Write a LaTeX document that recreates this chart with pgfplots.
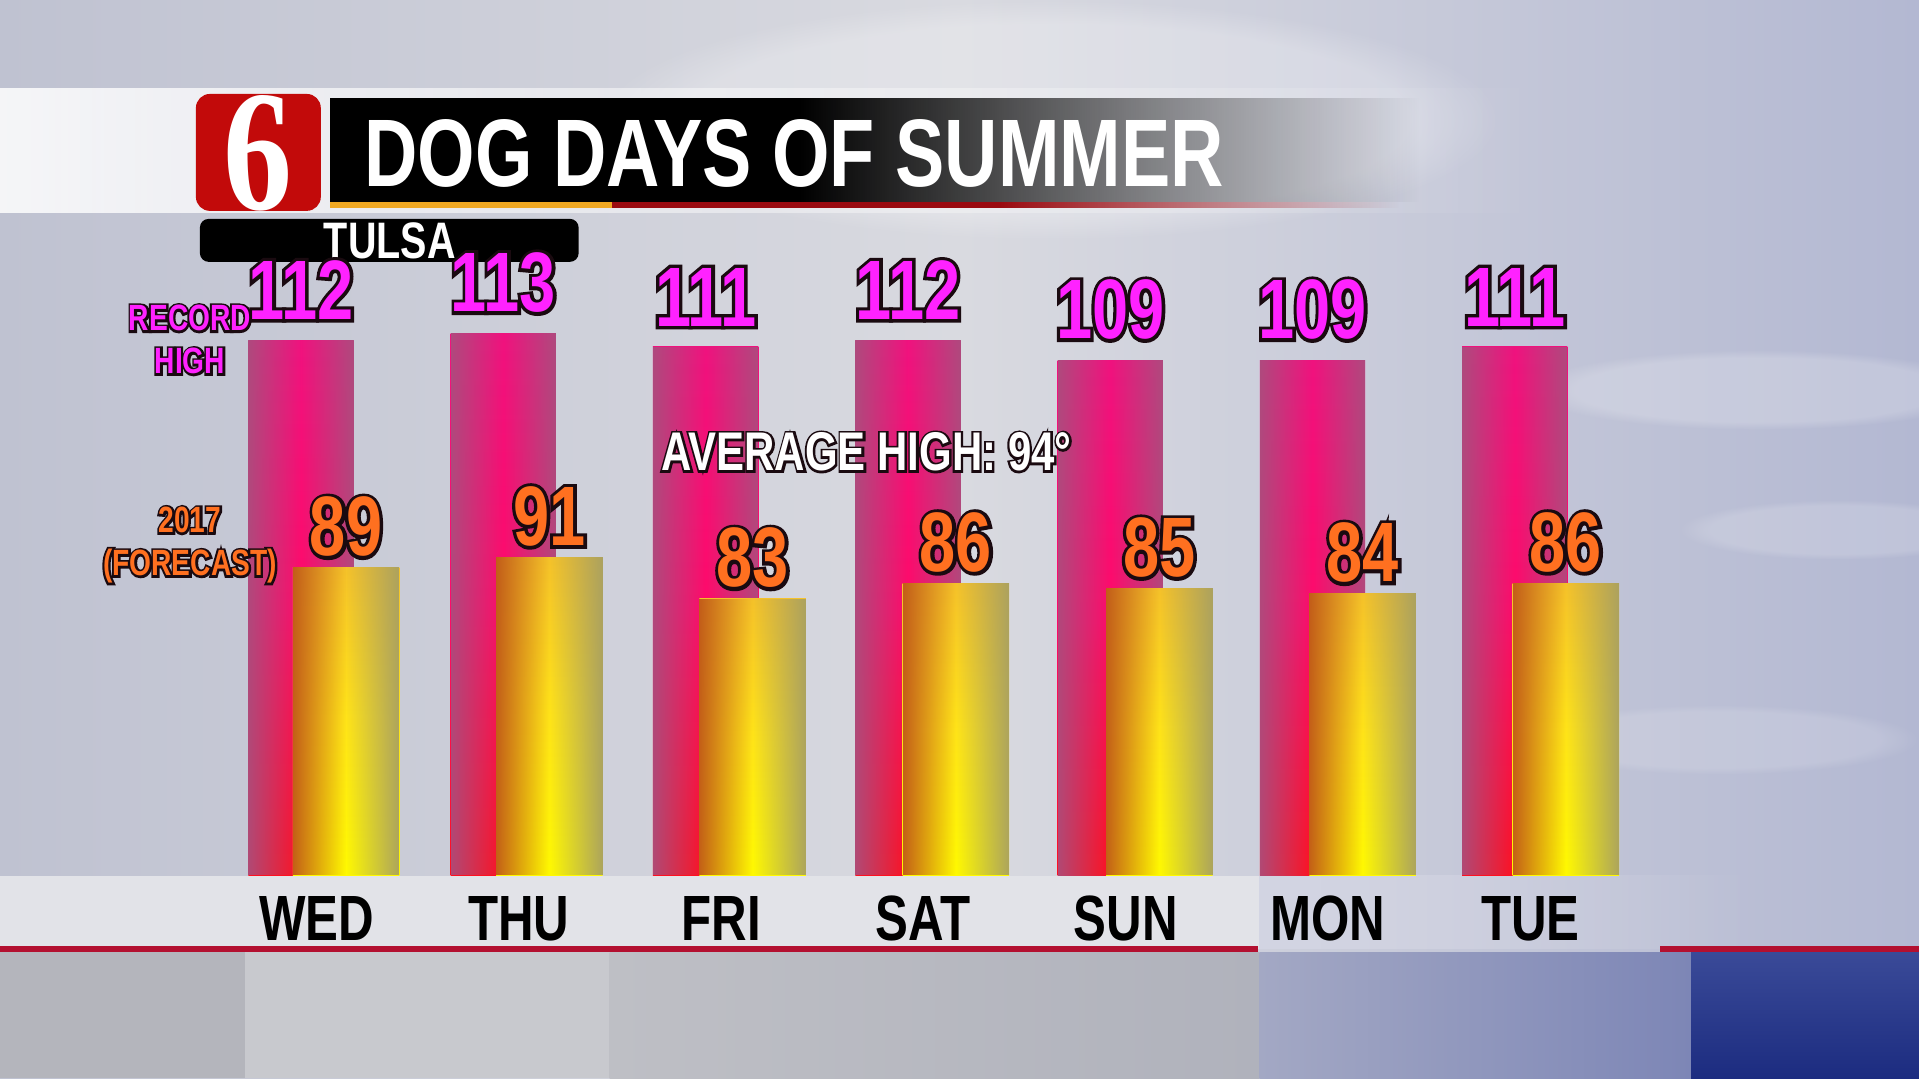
\documentclass[border=0pt]{standalone}
\usepackage{pgfplots}
\usepackage{pgfplotstable}
\pgfplotsset{compat=1.18}
\usetikzlibrary{fadings}
\usepackage{fontspec}
\setmainfont[FakeStretch=0.77]{Liberation Sans}
\newfontfamily\outfont[FakeStretch=0.77, FakeBold=8]{Liberation Sans}
\newfontfamily\outfontS[FakeStretch=0.77, FakeBold=12]{Liberation Sans}
\newfontfamily\logofont[FakeStretch=0.8]{Liberation Serif}

\definecolor{recmag}{HTML}{FF22FF}
\definecolor{fcor}{HTML}{FF7020}
\definecolor{recA}{HTML}{F0127E}
\definecolor{recB}{HTML}{FF0A6A}
\definecolor{recC}{HTML}{FF1020}
\definecolor{recEdge}{HTML}{A8507E}
\definecolor{fcA}{HTML}{F5C22A}
\definecolor{fcB}{HTML}{FFE418}
\definecolor{fcC}{HTML}{FFFA00}
\definecolor{fcL}{HTML}{C05818}
\definecolor{fcR}{HTML}{A8A062}
\definecolor{logored}{HTML}{C20A0A}
\definecolor{lineRed}{HTML}{B31030}
\definecolor{bgL}{HTML}{BFC2D1}
\definecolor{bgM}{HTML}{D9DAE0}
\definecolor{bgR}{HTML}{B3B8D2}
\definecolor{ulOr}{HTML}{F0A822}
\definecolor{ulRed}{HTML}{9A0A10}
\definecolor{bandA}{HTML}{E2E3E8}
\definecolor{bandB}{HTML}{D3D5E3}
\definecolor{botA}{HTML}{B4B5BC}
\definecolor{botB}{HTML}{C8C9CE}
\definecolor{botC}{HTML}{BEBFC5}
\definecolor{botD}{HTML}{B0B2BC}
\definecolor{botE}{HTML}{A3A8C4}
\definecolor{botF}{HTML}{7D86B6}
\definecolor{botG}{HTML}{3A4A98}
\definecolor{botH}{HTML}{1C2C80}
\definecolor{outl}{HTML}{1A0A10}

\tikzfading[name=edges, left color=transparent!10, right color=transparent!10, middle color=transparent!100]
\tikzfading[name=ledge, left color=transparent!5, right color=transparent!100, middle color=transparent!100]
\tikzfading[name=redge, left color=transparent!100, right color=transparent!5, middle color=transparent!100]
\tikzfading[name=faderight, left color=transparent!0, right color=transparent!100]

\newcommand\numfont{\fontsize{24}{24}\selectfont\bfseries}
\newcommand\dayfont{\fontsize{18.2}{18.2}\selectfont\bfseries}
\newcommand\titlefont{\fontsize{27.3}{27.3}\selectfont\bfseries}
\newcommand\tulsafont{\fontsize{14.6}{14.6}\selectfont\bfseries}
\newcommand\smallfont{\fontsize{10.4}{10.4}\selectfont\bfseries}
\newcommand\avgfont{\fontsize{15.5}{15.5}\selectfont\bfseries}
% dark outline: an emboldened dark copy under the coloured text
\newcommand\outl[1]{\rlap{\outfont\bfseries\color{outl}#1}#1}
\newcommand\outlS[1]{\rlap{\outfontS\bfseries\color{outl}#1}#1}

\pgfplotstableread{
i rec fc
0 112 89
1 113 91
2 111 83
3 112 86
4 109 85
5 109 84
6 111 86
}\temps

\pgfplotsset{chartax/.style={
  scale only axis, width=19.2cm, anchor=south west, at={(0,2.035cm)},
  axis line style={draw=none}, major tick length=0pt, ytick=\empty,
  /pgf/number format/assume math mode=true,
  clip mode=individual,
}}

\begin{document}
\begin{tikzpicture}
\path[use as bounding box] (0,0) rectangle (19.2,10.79);
\clip (0,0) rectangle (19.2,10.79);
\begin{scope}[x=0.01cm, y=-0.01cm, yshift=10.79cm]
  % background
  \shade[left color=bgL, right color=bgR, middle color=bgM] (0,0) rectangle (1920,1079);
  \fill[white, opacity=0.2, path fading=circle with fuzzy edge 20 percent] (1760,390) ellipse [x radius=230, y radius=40];
  \fill[white, opacity=0.16, path fading=circle with fuzzy edge 20 percent] (1840,530) ellipse [x radius=160, y radius=30];
  \fill[white, opacity=0.14, path fading=circle with fuzzy edge 20 percent] (1720,740) ellipse [x radius=200, y radius=35];
  \fill[white, opacity=0.25, path fading=circle with fuzzy edge 20 percent] (1050,120) ellipse [x radius=450, y radius=120];
  % white band
  \fill[white, opacity=0.85, path fading=faderight] (0,88) rectangle (1550,213);
  % title banner
  \fill[black] (330,98) rectangle (800,202);
  \fill[black, path fading=faderight] (799,98) rectangle (1420,202);
  \fill[ulOr] (330,202) rectangle (612,208);
  \fill[ulRed] (612,202) rectangle (1000,208);
  \fill[ulRed, path fading=faderight] (999,202) rectangle (1400,208);
  % logo
  \fill[logored, rounded corners=4pt] (196,94) rectangle (321,211);
  \node[text=white, inner sep=0pt] at (258,153) {\logofont\bfseries\fontsize{49}{49}\selectfont 6};
  % title text
  \node[anchor=base west, inner sep=0pt, text=white] at (364,187) {\titlefont DOG DAYS OF SUMMER};
  % Tulsa
  \fill[black, rounded corners=2.5pt] (200,219) rectangle (579,262);
  \node[text=white, inner sep=0pt] at (390,241) {\tulsafont TULSA};
  % bottom band
  \fill[bandA] (0,876) rectangle (1260,950);
  \fill[bandB, path fading=faderight] (1260,876) rectangle (1760,950);
  \fill[botA] (0,953) rectangle (245,1079);
  \fill[botB] (245,953) rectangle (610,1079);
  \shade[left color=botC, right color=botD] (610,953) rectangle (1260,1079);
  \shade[left color=botE, right color=botF] (1260,953) rectangle (1692,1079);
  \shade[top color=botG, bottom color=botH] (1692,953) rectangle (1920,1079);
  \fill[lineRed] (0,947) rectangle (1259,953);
  \fill[lineRed] (1661,947) rectangle (1920,953);
\end{scope}

% record highs
\begin{axis}[chartax, height=6.5666cm,
  xmin=-1.488, xmax=8.003, ymin=0, ymax=97.5,
  y filter/.expression={y-32.5},
  xtick={0,...,6}, xticklabels={WED,THU,FRI,SAT,SUN,MON,TUE},
  xticklabel style={font=\dayfont, text=black, anchor=base, inner sep=0pt, yshift=-0.65cm, xshift=0.155cm},
]
\pgfplotsinvokeforeach{0,...,6}{
  \addplot[ybar, bar width=0.5206, draw=none,
    top color=recA, bottom color=recC, middle color=recB,
    restrict x to domain=#1:#1,
    point meta=rawy,
    nodes near coords={\outl{\pgfmathprintnumber{\pgfplotspointmeta}}},
    every node near coord/.append style={font=\numfont, text=recmag, inner sep=0pt, yshift=0.2cm},
  ] table[x=i, y=rec] {\temps};
  \addplot[ybar, bar width=0.5206, draw=none, fill=recEdge, path fading=edges,
    restrict x to domain=#1:#1] table[x=i, y=rec] {\temps};
}
\end{axis}

% 2017 forecast
\begin{axis}[chartax, height=5.2144cm,
  xmin=-1.702, xmax=7.742, ymin=0, ymax=100.2,
  y filter/.expression={y-29.8},
  xtick=\empty,
]
\pgfplotsinvokeforeach{0,...,6}{
  \addplot[ybar, bar width=0.524, draw=none,
    top color=fcA, bottom color=fcC, middle color=fcB,
    restrict x to domain=#1:#1,
    point meta=rawy,
    nodes near coords={\outl{\pgfmathprintnumber{\pgfplotspointmeta}}},
    every node near coord/.append style={font=\numfont, text=fcor, inner sep=0pt, yshift=0.1cm},
  ] table[x=i, y=fc] {\temps};
  \addplot[ybar, bar width=0.524, draw=none, fill=fcL, path fading=ledge,
    restrict x to domain=#1:#1] table[x=i, y=fc] {\temps};
  \addplot[ybar, bar width=0.524, draw=none, fill=fcR, path fading=redge,
    restrict x to domain=#1:#1] table[x=i, y=fc] {\temps};
}
\end{axis}

\begin{scope}[x=0.01cm, y=-0.01cm, yshift=10.79cm]
  \node[anchor=base, inner sep=0pt, text=recmag] at (190,331) {\smallfont\outlS{RECORD}};
  \node[anchor=base, inner sep=0pt, text=recmag] at (190,374) {\smallfont\outlS{HIGH}};
  \node[anchor=base, inner sep=0pt, text=fcor] at (190,533) {\smallfont\outlS{2017}};
  \node[anchor=base, inner sep=0pt, text=fcor] at (190,576) {\smallfont\outlS{(FORECAST)}};
  \node[anchor=base, inner sep=0pt, text=white] at (867,471) {\avgfont\outl{AVERAGE HIGH: 94°}};
\end{scope}
\end{tikzpicture}
\end{document}
